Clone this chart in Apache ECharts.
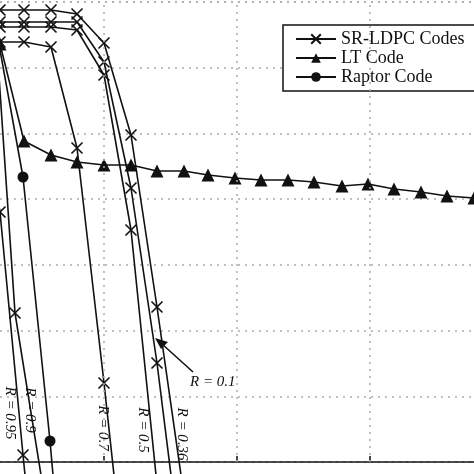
<!DOCTYPE html><html><head><meta charset="utf-8"><script src="https://cdn.jsdelivr.net/npm/echarts@6/dist/echarts.min.js"></script></head><body style="margin:0"><div id="c" style="width:474px;height:474px"></div><script>
const ldpc1=[[24,452],[29,452],[53,452],[80,452],[106,448],[133,419],[160,327],[186,155],[210,-13]];
const ldpc2=[[24,440],[29,440],[53,440],[80,440],[106,440],[133,400],[160,274],[186,99],[200,-13]];
const ldpc3=[[24,435],[29,435],[53,435],[80,435],[106,432],[133,387],[160,232],[185,-13]];
const ldpc7=[[24,420],[29,420],[53,420],[80,415],[106,314],[133,79],[143,-13]];
const ldpc9=[[25,430],[44,149],[70,-13]];
const ldpc95=[[20,300],[29,250],[52,7],[54,-13]];
const raptor=[[22,440],[29,412],[52,285],[79,21],[82,-13]];
const raptorMarks=[false,false,true,true,false];
const lt=[[22,462],[29,418],[53,321],[80,307],[106,300],[133,297],[160,297],[186,291],[213,291],[237,287],[264,284],[290,282],[317,282],[343,280],[371,276],[397,278],[423,273],[450,270],[476,266],[503,264]];
const xTicks=[133,266,399];
const names=['SR-LDPC Codes','LT Code','Raptor Code'];
const X0=29;
const cross='path://M0,0L10,10M10,0L0,10';
const F='Liberation Serif';
function mk(d,flags){return d.map((p,i)=>({value:[p[0]-X0,p[1]],symbol:(flags?flags[i]:(i>0&&i<d.length-1))?undefined:'none'}));}
const xs={type:'line',name:names[0],symbol:cross,symbolSize:11,clip:false,lineStyle:{color:'#111',width:1.6},itemStyle:{color:'none',borderColor:'#111',borderWidth:1.6},z:3};
const ch=echarts.init(document.getElementById('c'));
ch.setOption({animation:false,
grid:{left:0,top:2,right:0,height:460},
xAxis:{type:'value',min:0,max:474,axisLabel:{show:false},axisLine:{lineStyle:{color:'#111',width:1.5}},axisTick:{inside:true,length:6,customValues:xTicks.map(v=>v-X0),lineStyle:{color:'#111',width:1.5}},splitLine:{show:false}},
yAxis:{type:'value',min:0,max:460,interval:65.7,axisLabel:{show:false},axisLine:{show:false},axisTick:{show:false},splitLine:{lineStyle:{color:'#aaa',type:[2,5],width:1.5}}},
legend:{data:names,orient:'vertical',left:283,top:25,padding:[5,40,5,12],itemGap:1,itemWidth:40,itemHeight:12,borderColor:'#111',borderWidth:1.5,backgroundColor:'#fff',textStyle:{fontFamily:F,fontSize:18,color:'#111'}},
series:[
Object.assign({},xs,{data:mk(ldpc1)}),Object.assign({},xs,{data:mk(ldpc2)}),Object.assign({},xs,{data:mk(ldpc3)}),
Object.assign({},xs,{data:mk(ldpc7)}),Object.assign({},xs,{data:mk(ldpc9)}),Object.assign({},xs,{data:mk(ldpc95)}),
{type:'line',name:names[1],symbol:'triangle',symbolSize:13,clip:false,data:mk(lt,lt.map((p,i)=>i>0)),lineStyle:{color:'#111',width:1.6},itemStyle:{color:'#111'},
 markLine:{silent:true,symbol:'none',label:{show:false},lineStyle:{color:'#aaa',type:[2,5],width:1.5},data:xTicks.map(v=>({xAxis:v-X0}))},z:2},
{type:'line',name:names[2],symbol:'circle',symbolSize:11,clip:false,data:mk(raptor,raptorMarks),lineStyle:{color:'#111',width:1.6},itemStyle:{color:'#111'}}
],
graphic:[
...[['R = 0.95',10,413],['R = 0.9',30,410],['R = 0.7',103,428],['R = 0.5',143,430],['R = 0.36',182,434]].map(t=>({type:'text',x:t[1],y:t[2],rotation:-Math.PI/2,style:{text:t[0],font:'italic 15px "Liberation Serif"',fill:'#111',align:'center',verticalAlign:'middle'}})),
{type:'text',x:190,y:375,style:{text:'R = 0.1',font:'italic 15px "Liberation Serif"',fill:'#111'}},
{type:'line',shape:{x1:193,y1:372,x2:162,y2:344},style:{stroke:'#111',lineWidth:1.6}},
{type:'polygon',shape:{points:[[155,338],[168,342],[161,349]]},style:{fill:'#111'}}
]});
</script></body></html>
